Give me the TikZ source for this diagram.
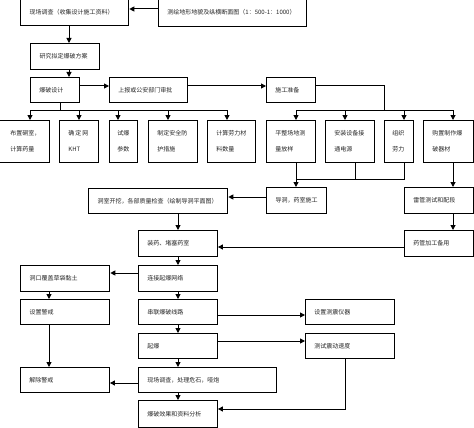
\documentclass[tikz,border=0pt]{standalone}
\usepackage{fontspec}
\newfontfamily\cjk{Noto Sans CJK SC}
\usetikzlibrary{arrows.meta}
\begin{document}
\begin{tikzpicture}[x=1pt,y=-1pt,
  box/.style={draw, line width=0.9pt, anchor=north west, inner xsep=9pt, inner ysep=0pt,
    align=left, font=\cjk\fontsize{6}{16}\selectfont, text=black!85},
  thick box/.style={box, line width=1.3pt},
  line/.style={line width=1pt},
  arr/.style={line width=1pt, -{Triangle[length=5pt,width=5pt]}}]
\useasboundingbox (0,0) rectangle (474,428);
\fill[white] (0,0) rectangle (474,428);
% top
\node[thick box, minimum width=108pt, minimum height=27pt, text width=90pt] (b1) at (20,-2) {现场调查（收集设计施工资料）};
\node[box, minimum width=148pt, minimum height=28pt, text width=130pt] (b2) at (158,-2) {测绘地形地貌及纵横断面图（1：500-1：1000）};
\node[thick box, minimum width=69pt, minimum height=26pt, text width=51pt] (b3) at (30,43) {研究拟定爆破方案};
\node[box, minimum width=49pt, minimum height=25pt, text width=31pt] (b4) at (30,77) {爆破设计};
\node[box, minimum width=78pt, minimum height=25pt, text width=60pt] (b5) at (109,77) {上报或公安部门审批};
\node[box, minimum width=49pt, minimum height=25pt, text width=31pt] (b6) at (266,77) {施工准备};
% row
\node[box, minimum width=51pt, minimum height=42pt, text width=31pt, inner xsep=10pt] (r1) at (-2,120) {\hspace*{2pt}布置硐室，\\\hspace*{2pt}计算药量};
\node[box, minimum width=39pt, minimum height=42pt, text width=21pt] (r2) at (59,120) {确\,定\,网\\KHT};
\node[box, minimum width=28pt, minimum height=42pt, text width=12pt, inner xsep=8pt] (r3) at (109,120) {试爆\\参数};
\node[box, minimum width=49pt, minimum height=42pt, text width=31pt] (r4) at (148,120) {制定安全防\\护措施};
\node[box, minimum width=48pt, minimum height=42pt, text width=30pt] (r5) at (207,120) {计算劳力材\\料数量};
\node[box, minimum width=49pt, minimum height=42pt, text width=31pt] (r6) at (266,120) {平整场地测\\量放样};
\node[box, minimum width=49pt, minimum height=42pt, text width=31pt] (r7) at (325,120) {安装设备接\\通电源};
\node[box, minimum width=29pt, minimum height=42pt, text width=13pt, inner xsep=8pt] (r8) at (384,120) {组织\\劳力};
\node[box, minimum width=50pt, minimum height=42pt, text width=32pt] (r9) at (423,120) {购置制作爆\\破器材};
% middle
\node[thick box, minimum width=139pt, minimum height=25pt, text width=121pt] (c1) at (88,188) {洞室开挖，各部质量检查（绘制导洞平面图）};
\node[thick box, minimum width=60pt, minimum height=26pt, text width=42pt] (d1) at (266,187) {导洞，药室施工};
\node[box, minimum width=69pt, minimum height=26pt, text width=51pt] (L1) at (404,187) {雷管测试和配段};
\node[box, minimum width=69pt, minimum height=26pt, text width=51pt] (L2) at (404,230) {药管加工备用};
\node[box, minimum width=79pt, minimum height=26pt, text width=61pt] (z1) at (138,230) {装药、堵塞药室};
\node[box, minimum width=79pt, minimum height=26pt, text width=61pt] (n1) at (138,265) {连接起爆网络};
\node[thick box, minimum width=89pt, minimum height=26pt, text width=71pt] (k1) at (20,265) {洞口覆盖草袋黏土};
\node[thick box, minimum width=89pt, minimum height=25pt, text width=71pt] (w1) at (20,299) {设置警戒};
\node[box, minimum width=79pt, minimum height=25pt, text width=61pt] (s1) at (138,299) {串联爆破线路};
\node[box, minimum width=89pt, minimum height=25pt, text width=71pt] (t1) at (305,299) {设置测震仪器};
\node[box, minimum width=79pt, minimum height=25pt, text width=61pt] (q1) at (138,333) {起爆};
\node[box, minimum width=89pt, minimum height=25pt, text width=71pt] (t2) at (305,333) {测试震动速度};
\node[box, minimum width=138pt, minimum height=25pt, text width=120pt] (x1) at (138,367) {现场调查，处理危石，哑炮};
\node[box, minimum width=89pt, minimum height=25pt, text width=71pt] (u1) at (20,367) {解除警戒};
\node[box, minimum width=79pt, minimum height=27pt, text width=61pt] (e1) at (138,400) {爆破效果和资料分析};
% connectors top
\draw[arr] (b2.west |- 0,9) -- (b1.east |- 0,9);
\draw[arr] (b1.south -| 69,0) -- (b3.north -| 69,0);
\draw[arr] (b3.south -| 69,0) -- (b4.north -| 69,0);
\draw[arr] (b4.east |- 0,86) -- (b5.west |- 0,86);
\draw[arr] (b5.east |- 0,86) -- (b6.west |- 0,86);
% left bus
\coordinate (jL) at (60,110);
\draw[line] (b4.south -| 60,0) -- (jL);
\draw[arr] (jL) -| (r1.north -| 30,0);
\draw[arr] (jL) -| (r2.north -| 79,0);
\draw[arr] (jL) -| (r3.north -| 118,0);
\draw[arr] (jL) -| (r4.north -| 168,0);
\draw[arr] (jL) -| (r5.north -| 227,0);
% right bus
\coordinate (jR) at (384,110);
\draw[line] (b6.east |- 0,86) -| (jR);
\draw[arr] (jR) -| (r6.north -| 296,0);
\draw[arr] (jR) -| (r7.north -| 345,0);
\draw[arr] (jR) -| (r8.north -| 404,0);
\draw[arr] (jR) -| (r9.north -| 453,0);
% merge to d1
\coordinate (jM) at (296,179);
\draw[arr] (r6.south -| 296,0) -- (d1.north -| 296,0);
\draw[line] (r7.south -| 355,0) |- (jM);
\draw[line] (r8.south -| 404,0) |- (jM);
\draw[arr] (d1.west |- 0,197) -- (c1.east |- 0,197);
\draw[arr] (r9.south -| 453,0) -- (L1.north -| 453,0);
\draw[arr] (L1.south -| 453,0) -- (L2.north -| 453,0);
\draw[arr] (L2.west |- 0,247) -- (z1.east |- 0,247);
% main column
\draw[arr] (c1.south -| 178,0) -- (z1.north -| 178,0);
\draw[arr] (z1.south -| 178,0) -- (n1.north -| 178,0);
\draw[arr] (n1.west |- 0,273) -- (k1.east |- 0,273);
\draw[arr] (k1.south -| 49,0) -- (w1.north -| 49,0);
\draw[arr] (n1.south -| 178,0) -- (s1.north -| 178,0);
\draw[arr] (s1.east |- 0,315) -- (t1.west |- 0,315);
\draw[arr] (s1.south -| 178,0) -- (q1.north -| 178,0);
\draw[arr] (q1.east |- 0,341) -- (t2.west |- 0,341);
\draw[arr] (q1.south -| 178,0) -- (x1.north -| 178,0);
\draw[arr] (x1.west |- 0,383) -- (u1.east |- 0,383);
\draw[arr] (w1.south -| 49,0) -- (u1.north -| 49,0);
\draw[arr] (x1.south -| 178,0) -- (e1.north -| 178,0);
\draw[arr] (t2.south -| 345,0) |- (e1.east |- 0,409);
\end{tikzpicture}
\end{document}
